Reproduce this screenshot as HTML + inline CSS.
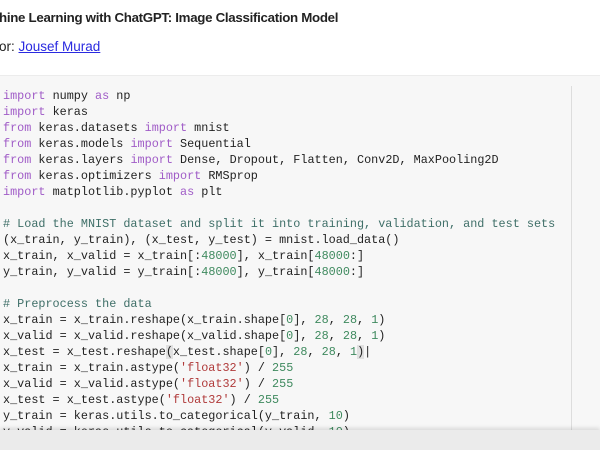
<!DOCTYPE html>
<html style="height:450px;overflow:hidden"><head><style>
body{margin:0;width:600px;height:450px;overflow:hidden;background:#fff;font-family:"Liberation Sans",sans-serif;position:relative}
.t{position:absolute;left:-1px;top:10px;font-size:13.3px;font-weight:bold;color:#222;letter-spacing:-0.3px;white-space:nowrap}
.a{position:absolute;left:-1px;top:39px;font-size:13.5px;color:#222}
.a span{text-decoration:underline;color:#2a2ae0}
.code{position:absolute;left:0;top:75px;width:600px;height:355px;background:#f7f7f7;border-top:1px solid #ececec;overflow:hidden}
.vl{position:absolute;left:571px;top:10px;width:1px;height:345px;background:#ddd}
pre{position:absolute;left:3px;top:12px;margin:0;font-family:"Liberation Mono",monospace;font-size:11.8px;line-height:16px;color:#222}
.k{color:#a05cc7}.s{color:#b03a3a}.n{color:#3f8a5f}.c{color:#3f6f68}
.bot{position:absolute;left:0;top:430px;width:600px;height:20px;background:#ebebeb;box-shadow:0 -2px 4px rgba(0,0,0,0.12)}
.hl{background:#e0e0e0}
</style></head><body>
<div class="t">hine Learning with ChatGPT: Image Classification Model</div>
<div class="a">or: <span>Jousef Murad</span></div>
<div class="code"><div class="vl"></div>
<pre><span class="k">import</span> numpy <span class="k">as</span> np
<span class="k">import</span> keras
<span class="k">from</span> keras.datasets <span class="k">import</span> mnist
<span class="k">from</span> keras.models <span class="k">import</span> Sequential
<span class="k">from</span> keras.layers <span class="k">import</span> Dense, Dropout, Flatten, Conv2D, MaxPooling2D
<span class="k">from</span> keras.optimizers <span class="k">import</span> RMSprop
<span class="k">import</span> matplotlib.pyplot <span class="k">as</span> plt

<span class="c"># Load the MNIST dataset and split it into training, validation, and test sets</span>
(x_train, y_train), (x_test, y_test) = mnist.load_data()
x_train, x_valid = x_train[:<span class="n">48000</span>], x_train[<span class="n">48000</span>:]
y_train, y_valid = y_train[:<span class="n">48000</span>], y_train[<span class="n">48000</span>:]

<span class="c"># Preprocess the data</span>
x_train = x_train.reshape(x_train.shape[<span class="n">0</span>], <span class="n">28</span>, <span class="n">28</span>, <span class="n">1</span>)
x_valid = x_valid.reshape(x_valid.shape[<span class="n">0</span>], <span class="n">28</span>, <span class="n">28</span>, <span class="n">1</span>)
x_test = x_test.reshape<span class="hl">(</span>x_test.shape[<span class="n">0</span>], <span class="n">28</span>, <span class="n">28</span>, <span class="n">1</span><span class="hl">)</span>|
x_train = x_train.astype(<span class="s">'float32'</span>) / <span class="n">255</span>
x_valid = x_valid.astype(<span class="s">'float32'</span>) / <span class="n">255</span>
x_test = x_test.astype(<span class="s">'float32'</span>) / <span class="n">255</span>
y_train = keras.utils.to_categorical(y_train, <span class="n">10</span>)
y_valid = keras.utils.to_categorical(y_valid, <span class="n">10</span>)</pre>
</div>
<div class="bot"></div>
</body></html>
